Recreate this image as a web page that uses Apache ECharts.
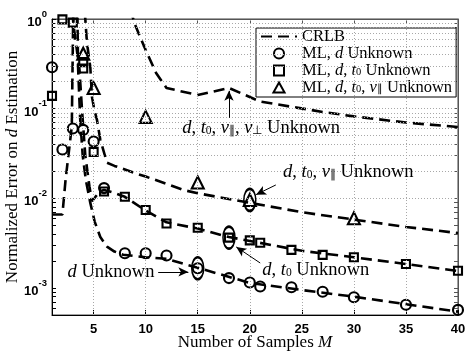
<!DOCTYPE html>
<html><head><meta charset="utf-8">
<script src="https://cdn.jsdelivr.net/npm/echarts@6/dist/echarts.min.js"></script>
<style>html,body{margin:0;padding:0;background:#fff}#c{width:474px;height:357px}</style>
</head><body><div id="c"></div>
<script>
// ---------- data ----------
const xTicks = [5, 10, 15, 20, 25, 30, 35, 40];
const yLabelVals = [1e-3, 1e-2, 1e-1, 1];
const yMinorVals = [5e-4,6e-4,7e-4,8e-4,9e-4,
  1e-3,2e-3,3e-3,4e-3,5e-3,6e-3,7e-3,8e-3,9e-3,
  1e-2,2e-2,3e-2,4e-2,5e-2,6e-2,7e-2,8e-2,9e-2,
  0.1,0.2,0.3,0.4,0.5,0.6,0.7,0.8,0.9,1];

// CRLB curves  [M, error]
const crlbD = [[1,6.6e-3],[2,6.6e-3],[2.3,0.016],[2.9,0.063],[3.0,0.5],[3.08,3],[3.4,3],[3.5,0.3],[3.7,0.08],[3.95,0.03],[4.25,0.016],[4.68,8.9e-3],[5.1,5.5e-3],[5.64,3.7e-3],[6.28,2.9e-3],[7,2.55e-3],[7.84,2.35e-3],[10,2.2e-3],[12,2.12e-3],[15,1.68e-3],[20,1.14e-3],[25,9.5e-4],[30,8e-4],[35,6.6e-4],[40,5.45e-4]];
const crlbDT = [[3.0,1.2],[3.07,0.85],[3.33,0.51],[3.65,0.26],[3.88,0.098],[4.2,0.03],[4.6,0.0135],[4.84,9.3e-3],[5.2,0.0105],[5.64,0.012],[6,0.0124],[7,0.0115],[8,0.0104],[10,7.3e-3],[12,5.4e-3],[15,4.6e-3],[18,3.7e-3],[20,3.35e-3],[25,2.6e-3],[30,2.2e-3],[35,1.85e-3],[40,1.55e-3]];
const crlbDTV = [[4.15,1.2],[4.36,0.54],[4.68,0.29],[4.84,0.135],[5.06,0.098],[5.32,0.075],[5.64,0.045],[6.28,0.025],[7,0.023],[8,0.021],[9,0.019],[10,0.0175],[12,0.0145],[13.6,0.0124],[15,0.0114],[20,8.9e-3],[25,7e-3],[30,5.8e-3],[35,4.8e-3],[40,4.1e-3]];
const crlbAll = [[8.5,1.3],[9,0.85],[10,0.45],[11,0.25],[12,0.17],[15,0.142],[18,0.17],[21,0.12],[24,0.105],[27,0.092],[30,0.082],[35,0.07],[40,0.0625]];

// ML simulation points
const mlD_M = [1,2,3,4,5,6,8,10,12,15,18,20,21,24,27,30,35,40];
const mlD_E = [0.29,0.035,0.06,0.058,0.043,0.013,2.44e-3,2.44e-3,2.3e-3,1.66e-3,1.29e-3,1.15e-3,1.04e-3,1.02e-3,9.1e-4,7.9e-4,6.5e-4,5.7e-4];
const mlDT_M = [1,2,3,4,4,5,6,8,10,12,15,18,20,21,24,27,30,35,40];
const mlDT_E = [0.139,0.99,0.91,0.33,0.28,0.033,0.0119,0.0104,7.4e-3,5.25e-3,4.7e-3,3.65e-3,3.4e-3,3.2e-3,2.66e-3,2.34e-3,2.2e-3,1.85e-3,1.56e-3];
const mlDTV_M = [4,5,10,15,20,30];
const mlDTV_E = [0.41,0.17,0.081,0.015,9.6e-3,6.0e-3];

// annotations (data coords)
const ellipses = [[15,1.66e-3],[18,3.65e-3],[20,9.6e-3]];
const arrows = [
  [[18,0.079],[18,0.158]],
  [[22.5,0.0141],[20.6,0.011]],
  [[21,1.9e-3],[18.7,2.87e-3]],
  [[11.2,1.51e-3],[14.1,1.51e-3]]
];
const annoTexts = [
  {at:[13.5,0.061], text:'{i|d}, {i|t}{s|0}, {i|v}{s|∥}, {i|v}{s|⊥} Unknown'},
  {at:[23.2,0.0197], text:'{i|d}, {i|t}{s|0}, {i|v}{s|∥} Unknown'},
  {at:[21.2,1.59e-3], text:'{i|d}, {i|t}{s|0} Unknown'},
  {at:[2.5,1.51e-3], text:'{i|d} Unknown'}
];
const legendNames = ['CRLB','ML, d Unknown','ML, d, t0 Unknown','ML, d, t0, v∥ Unknown'];
const legendRich = ['CRLB','ML, {i|d} Unknown','ML, {i|d}, {i|t}{s|0} Unknown','ML, {i|d}, {i|t}{s|0}, {i|v}{s|∥} Unknown'];

// ---------- chart ----------
const SERIF = 'Liberation Serif';
const zip = (a, b) => a.map((v, i) => [v, b[i]]);
const chart = echarts.init(document.getElementById('c'), null, {renderer: 'canvas'});

const dashed = {color: '#000', width: 2.6, type: [11, 6]};
const crlbSeries = [crlbD, crlbDT, crlbDTV, crlbAll].map(d => ({
  name: 'CRLB', type: 'line', data: d, symbol: 'none', showSymbol: false,
  lineStyle: dashed, itemStyle: {color: '#000'}, z: 3, silent: true
}));
const hollow = {color: 'rgba(255,255,255,0)', borderColor: '#000', borderWidth: 2.1, opacity: 1};
const gridLines = [];
yMinorVals.slice(1, -1).forEach(v => gridLines.push({yAxis: v}));
xTicks.slice(0, -1).forEach(v => gridLines.push({xAxis: v}));

const option = {
  backgroundColor: '#fff',
  animation: false,
  grid: {left: 52, right: 16, top: 19, bottom: 42, containLabel: false, outerBoundsMode: 'none',
    show: true, borderColor: '#444', borderWidth: 1, backgroundColor: 'transparent'},
  legend: {
    data: [
      {name: legendNames[0], itemStyle: {opacity: 0, color: 'rgba(0,0,0,0)', borderWidth: 0}},
      {name: legendNames[1], icon: 'circle'},
      {name: legendNames[2], icon: 'path://M0,0L1,0L1,1L0,1Z'},
      {name: legendNames[3], icon: 'path://M0.5,0L1,0.9L0,0.9Z'}
    ],
    left: 256, top: 28, orient: 'vertical', symbolKeepAspect: true,
    padding: [0, 4, 1, 4], itemGap: 0, itemWidth: 36, itemHeight: 10,
    borderColor: '#000', borderWidth: 1, backgroundColor: '#fff', borderRadius: 0,
    formatter: n => legendRich[legendNames.indexOf(n)],
    textStyle: {fontFamily: SERIF, fontSize: 16.5, color: '#000', lineHeight: 14,
      rich: {i: {fontFamily: SERIF, fontSize: 16.5, fontStyle: 'italic', lineHeight: 14},
             s: {fontFamily: SERIF, fontSize: 10.5, lineHeight: 7, verticalAlign: 'bottom'}}}
  },
  xAxis: [{
    type: 'value', min: 1, max: 40,
    name: 'Number of Samples {i|M}', nameLocation: 'middle', nameGap: 19, nameMoveOverlap: false,
    nameTextStyle: {fontFamily: SERIF, fontSize: 17, color: '#000',
      rich: {i: {fontFamily: SERIF, fontSize: 17, fontStyle: 'italic'}}},
    axisLine: {show: true, onZero: false, lineStyle: {color: '#000', width: 1}},
    axisTick: {show: true, inside: true, length: 5, customValues: xTicks, lineStyle: {color: '#000'}},
    axisLabel: {customValues: xTicks, margin: 8, fontFamily: 'Liberation Sans', fontWeight: 'bold', fontSize: 13, color: '#000'},
    splitLine: {show: false}
  }, {
    type: 'value', min: 1, max: 40, position: 'top',
    axisLine: {show: true, onZero: false, lineStyle: {color: '#555'}},
    axisTick: {show: true, inside: true, length: 5, customValues: xTicks, lineStyle: {color: '#555'}},
    axisLabel: {show: false}, splitLine: {show: false}
  }],
  yAxis: [{
    type: 'log', logBase: 10, min: 5e-4, max: 1,
    name: 'Normalized Error on {i|d} Estimation', nameLocation: 'middle', nameGap: 31, nameMoveOverlap: false,
    nameTextStyle: {fontFamily: SERIF, fontSize: 17, color: '#000',
      rich: {i: {fontFamily: SERIF, fontSize: 17, fontStyle: 'italic'}}},
    axisLine: {show: true, onZero: false, lineStyle: {color: '#000', width: 1}},
    axisTick: {show: true, inside: true, length: 4, customValues: yMinorVals, lineStyle: {color: '#000'}},
    axisLabel: {customValues: yLabelVals, margin: 5,
      formatter: v => '{b|10}{s|' + Math.round(Math.log10(v)) + '}',
      rich: {b: {fontFamily: 'Liberation Sans', fontWeight: 'bold', fontSize: 13, color: '#000', lineHeight: 20, verticalAlign: 'bottom'},
             s: {fontFamily: 'Liberation Sans', fontWeight: 'bold', fontSize: 9.5, color: '#000', lineHeight: 9, verticalAlign: 'top'}}},
    splitLine: {show: false}
  }, {
    type: 'log', logBase: 10, min: 5e-4, max: 1, position: 'right',
    axisLine: {show: true, onZero: false, lineStyle: {color: '#555'}},
    axisTick: {show: true, inside: true, length: 4, customValues: yMinorVals, lineStyle: {color: '#555'}},
    axisLabel: {show: false}, splitLine: {show: false}
  }],
  series: [
    {name: 'grid', type: 'line', data: [], z: 1, silent: true,
     markLine: {silent: true, symbol: 'none', label: {show: false}, animation: false,
       lineStyle: {color: '#a8a8a8', width: 1, type: [1, 2]}, data: gridLines}},
    ...crlbSeries,
    {name: 'ML, d Unknown', type: 'scatter', data: zip(mlD_M, mlD_E), symbol: 'circle', symbolSize: 10, itemStyle: hollow, z: 4},
    {name: 'ML, d, t0 Unknown', type: 'scatter', data: zip(mlDT_M, mlDT_E), symbol: 'rect', symbolSize: 8, itemStyle: hollow, z: 4},
    {name: 'ML, d, t0, v∥ Unknown', type: 'scatter', data: zip(mlDTV_M, mlDTV_E), symbol: 'triangle', symbolSize: 12, itemStyle: hollow, z: 4},
    {name: 'anno', type: 'line', data: [], z: 5, silent: true,
     markLine: {silent: true, symbol: ['none', 'arrow'], symbolSize: [7, 10], label: {show: false}, animation: false,
       lineStyle: {color: '#000', width: 1, type: 'solid'},
       data: arrows.map(a => [{coord: a[0]}, {coord: a[1]}])},
     markPoint: {silent: true, animation: false, symbol: 'circle', symbolSize: [12, 22], label: {show: false},
       itemStyle: {color: 'rgba(0,0,0,0)', borderColor: '#000', borderWidth: 2, opacity: 1},
       data: ellipses.map(e => ({coord: e}))}}
  ]
};
chart.setOption(option);

const annoRich = {
  i: {fontFamily: SERIF, fontSize: 18.5, fontStyle: 'italic', lineHeight: 18},
  s: {fontFamily: SERIF, fontSize: 11.5, lineHeight: 8, verticalAlign: 'bottom'}
};
chart.setOption({
  graphic: annoTexts.map(t => {
    const p = chart.convertToPixel({xAxisIndex: 0, yAxisIndex: 0}, t.at);
    return {type: 'text', x: p[0], y: p[1], z: 10, silent: true,
      style: {text: t.text, fontFamily: SERIF, fontSize: 18.5, lineHeight: 18, fill: '#000',
        align: 'left', verticalAlign: 'middle', rich: annoRich}};
  })
});
</script></body></html>
